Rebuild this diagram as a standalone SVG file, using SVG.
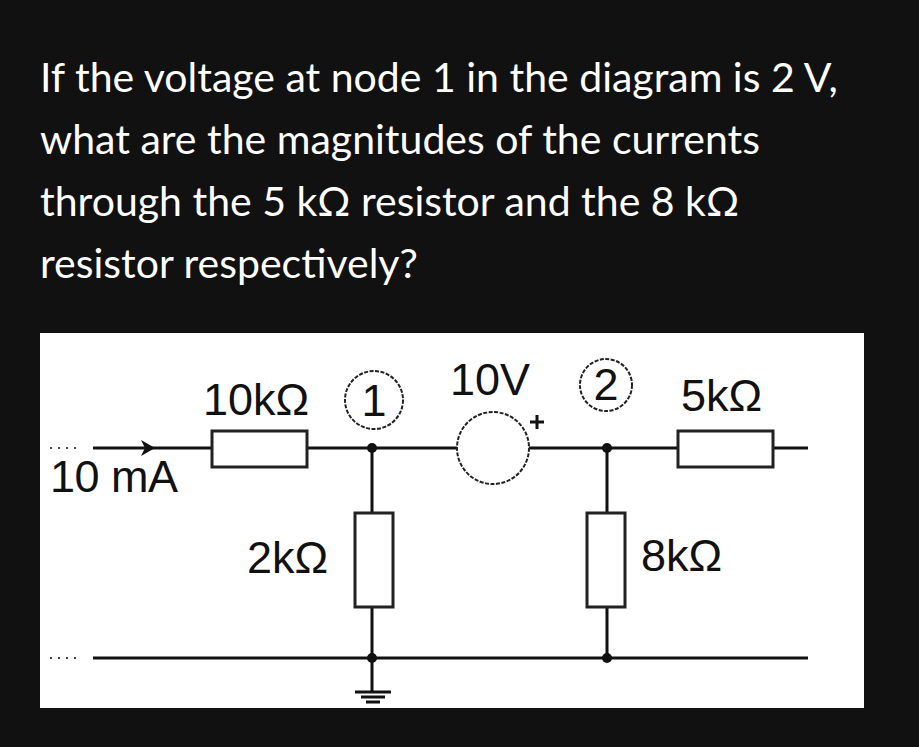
<svg xmlns="http://www.w3.org/2000/svg" width="919" height="747" viewBox="0 0 919 747">
<style>
.q{font-family:Lato,"Noto Sans",sans-serif;font-size:41px;fill:#fff}
.l{font-family:"Liberation Sans",Arial,sans-serif;font-size:45px;fill:#111}
.w{stroke:#111;stroke-width:3;fill:none}
.r{stroke:#222;stroke-width:3;fill:#fff}
.d{stroke:#222;stroke-width:2;fill:none;stroke-dasharray:4 1.5}
</style>
<rect width="919" height="747" fill="#111"/>
<text class="q" x="40" y="92">If the voltage at node 1 in the diagram is 2 V,</text>
<text class="q" x="40" y="154">what are the magnitudes of the currents</text>
<text class="q" x="40" y="216">through the 5 kΩ resistor and the 8 kΩ</text>
<text class="q" x="40" y="278">resistor respectively?</text>
<rect x="40" y="333" width="824" height="375" fill="#fff"/>
<g id="connectors">
<path class="w" d="M93 448H212M307 448H457M529 448H678M773 448H808"/>
<path class="w" d="M93 658H808"/>
<path class="w" d="M372 448V513M372 607V692M607 448V513M607 607V658"/>
<path d="M141 440L155 448L141 456L145 448Z" fill="#111"/>
<path stroke="#444" stroke-width="2" stroke-dasharray="2 6" d="M50 448H82M50 658H82"/>
<circle cx="372" cy="448" r="5" fill="#111"/><circle cx="372" cy="658" r="5" fill="#111"/>
<circle cx="607" cy="448" r="5" fill="#111"/><circle cx="607" cy="658" r="5" fill="#111"/>
</g>
<g id="source"><text class="l" x="50" y="492" textLength="128">10 mA</text></g>
<g id="r10k"><rect class="r" x="212" y="431" width="95" height="36"/><text class="l" x="203" y="415">10kΩ</text></g>
<g id="node1"><circle class="d" cx="374" cy="400" r="29"/><text class="l" x="374" y="416" text-anchor="middle">1</text></g>
<g id="r2k"><rect class="r" x="355" y="513" width="38" height="94"/><text class="l" x="247" y="573">2kΩ</text></g>
<g id="ground"><path class="w" d="M355 692H391M361 697H385M366 702H380"/></g>
<g id="v10"><circle class="d" cx="493" cy="448" r="36"/><text class="l" x="450" y="395">10V</text><path stroke="#111" stroke-width="3" d="M530 422H544M537 415V429"/></g>
<g id="node2"><circle class="d" cx="606" cy="385" r="26"/><text class="l" x="606" y="400" text-anchor="middle">2</text></g>
<g id="r5k"><rect class="r" x="678" y="431" width="95" height="36"/><text class="l" x="681" y="411">5kΩ</text></g>
<g id="r8k"><rect class="r" x="587" y="513" width="38" height="94"/><text class="l" x="641" y="571">8kΩ</text></g>
</svg>
